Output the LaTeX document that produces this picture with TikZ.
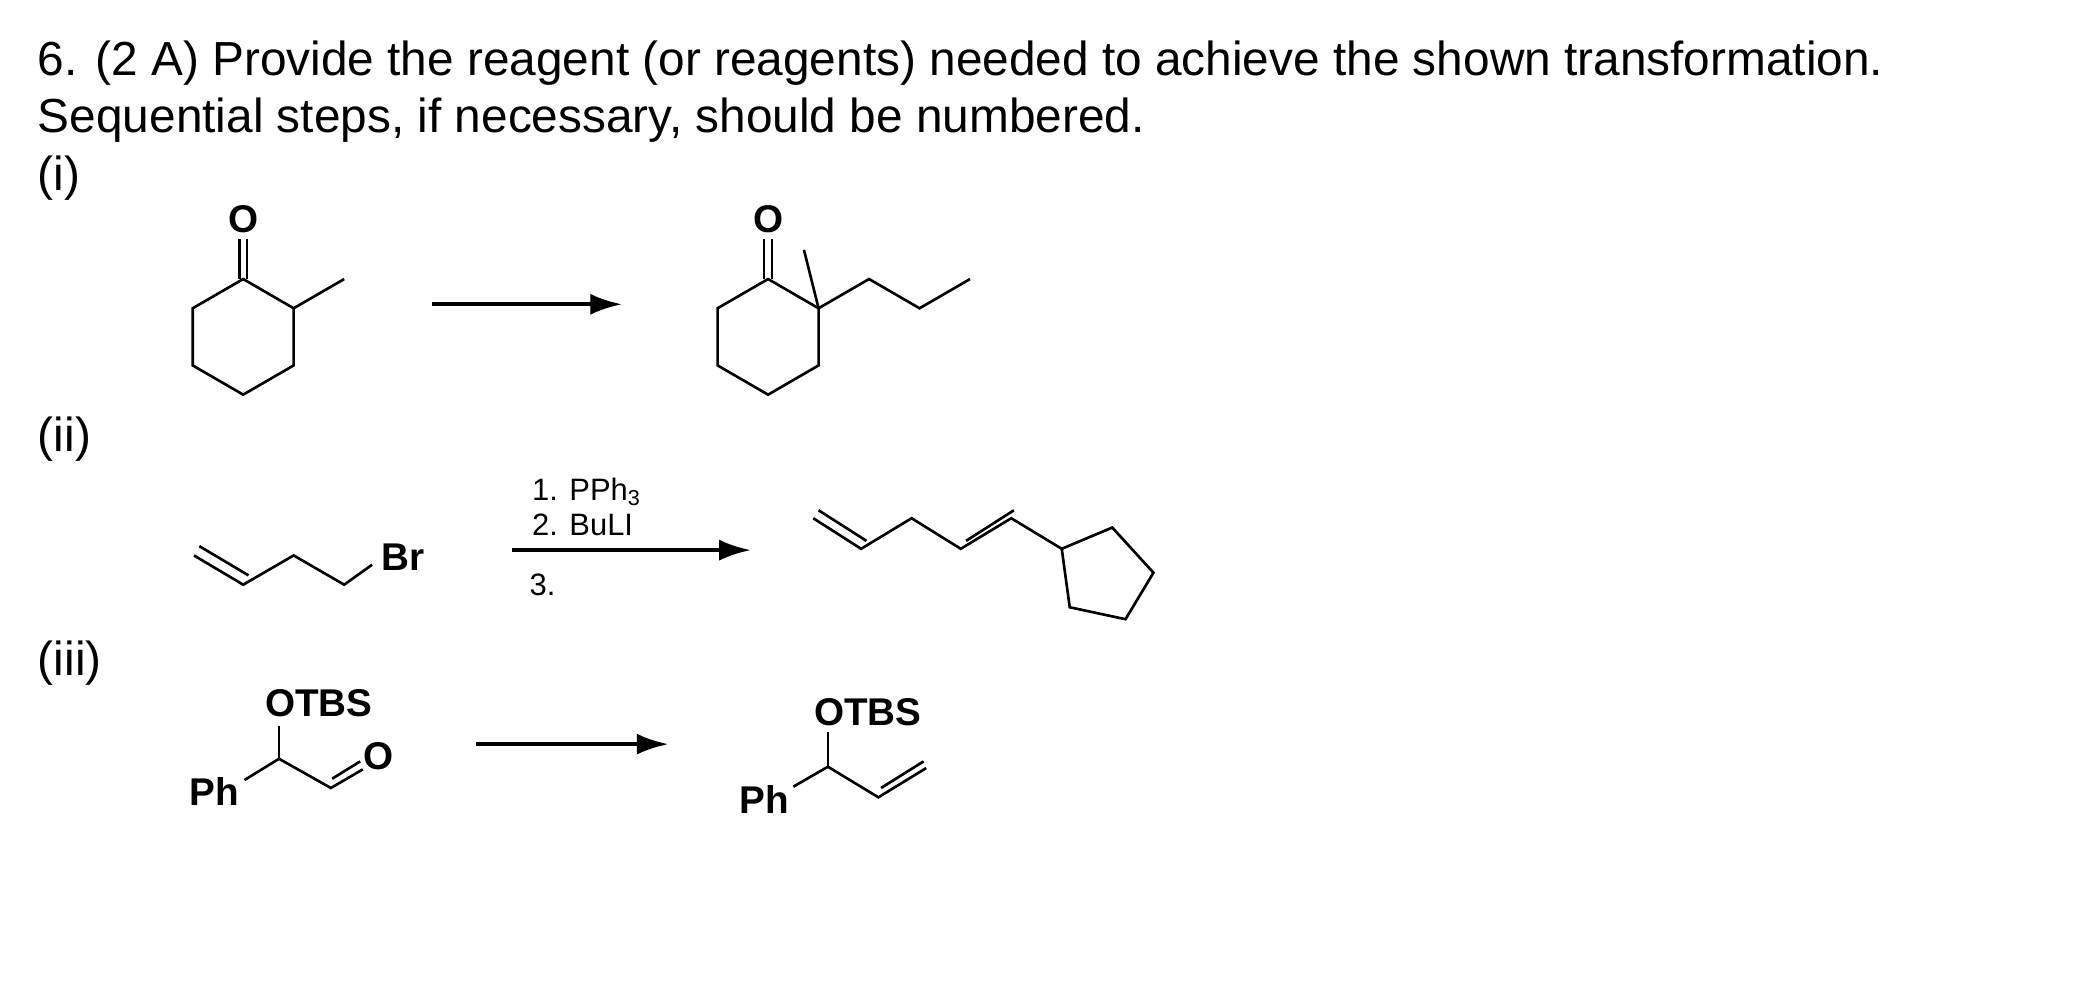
\documentclass[tikz,border=0pt]{standalone}
\usepackage{fontspec}
\setmainfont{Liberation Sans}
\usetikzlibrary{arrows.meta}
\begin{document}
\begin{tikzpicture}[x=0.01329cm,y=-0.01329cm,
  bd/.style={line width=0.75pt,line join=miter},
  rx/.style={line width=1.1pt,-{Latex[length=9pt,width=6pt]}},
  big/.style={font=\fontsize{13.6}{15}\selectfont,anchor=base west,inner sep=0pt},
  atom/.style={font=\fontsize{11}{13}\bfseries,inner sep=1pt},
  rg/.style={font=\fontsize{8.8}{10}\selectfont,anchor=base west,inner sep=0pt}]
\useasboundingbox (0,0) rectangle (1560,754);
\node[big] (t1) at (28,57) {6. (2 A) Provide the reagent (or reagents) needed to achieve the shown transformation.};
\node[big] (t2) at (28,100) {Sequential steps, if necessary, should be numbered.};
\node[big] (l1) at (28,143) {(i)};
\node[big] (l2) at (28,340) {(ii)};
\node[big] (l3) at (28,508) {(iii)};
% (i) reactant
\node[atom] (o1) at (183,165) {O};
\draw[bd] (183,210)--(221,232)--(221,275)--(183,297)--(145,275)--(145,232)--cycle;
\draw[bd] (221,232)--(259,210);
\draw[bd] (180,210)--(180,180) (186,210)--(186,180);
\coordinate (a1) at (325,229); \coordinate (a2) at (468,229);
\draw[rx] (a1)--(a2);
% (i) product
\node[atom] (o2) at (578,165) {O};
\draw[bd] (578,210)--(616,232)--(616,275)--(578,297)--(540,275)--(540,232)--cycle;
\draw[bd] (575,210)--(575,180) (581,210)--(581,180);
\draw[bd] (616,232)--(605,188);
\draw[bd] (616,232)--(654,210)--(692,232)--(730,210);
% (ii) reactant
\draw[bd] (146,418)--(183,440)--(221,418)--(259,440)--(280,425);
\draw[bd] (150,411)--(187,433);
\node[atom] (br) at (303,419) {Br};
% reagents
\node[rg] (r1) at (400,377) {1. PPh\textsubscript{3}};
\node[rg] (r2) at (400,403) {2. BuLI};
\node[rg] (r3) at (398,448) {3.};
\coordinate (b1) at (385,414); \coordinate (b2) at (565,414);
\draw[rx] (b1)--(b2);
% (ii) product
\draw[bd] (612,390)--(648,413)--(686,390)--(723,413)--(761,390)--(799,413);
\draw[bd] (616,384)--(652,407);
\draw[bd] (727,407)--(763,384);
\draw[bd] (799,413)--(837,397)--(868,431)--(847,466)--(805,457)--cycle;
% (iii) reactant
\node[atom] (ot1) at (240,529) {OTBS};
\node[atom] (ph1) at (161,596) {Ph};
\node[atom] (ox) at (285,569) {O};
\draw[bd] (210,546)--(210,571);
\draw[bd] (184,587)--(210,571)--(249,593)--(273,579);
\draw[bd] (250,586)--(271,573);
\coordinate (c1) at (358,560); \coordinate (c2) at (503,560);
\draw[rx] (c1)--(c2);
% (iii) product
\node[atom] (ot2) at (653,536) {OTBS};
\node[atom] (ph2) at (575,602) {Ph};
\draw[bd] (623,551)--(623,577);
\draw[bd] (597,592)--(623,577)--(661,600)--(697,578);
\draw[bd] (663,593)--(695,573);
\end{tikzpicture}
\end{document}
